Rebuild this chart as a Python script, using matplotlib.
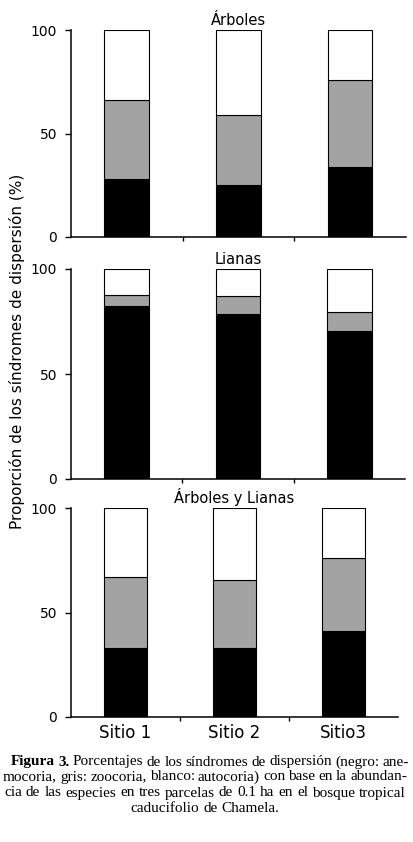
import matplotlib
matplotlib.use("Agg")
import matplotlib.pyplot as plt
import numpy as np

W, H = 414, 842

sitios = ["Sitio 1", "Sitio 2", "Sitio3"]
paneles = ["Árboles", "Lianas", "Árboles y Lianas"]

# porcentajes por sindrome (negro: anemocoria, gris: zoocoria, blanco: autocoria)
anemocoria_arboles = [28, 25, 34]
zoocoria_arboles = [38, 34, 42]
autocoria_arboles = [34, 41, 24]

anemocoria_lianas = [82.5, 78.5, 70.5]
zoocoria_lianas = [5, 8.5, 9]
autocoria_lianas = [12.5, 13, 20.5]

anemocoria_ambos = [33, 33, 41]
zoocoria_ambos = [34, 32.5, 35]
autocoria_ambos = [33, 34.5, 24]

yticks = [0, 50, 100]

datos = [
    (anemocoria_arboles, zoocoria_arboles, autocoria_arboles),
    (anemocoria_lianas, zoocoria_lianas, autocoria_lianas),
    (anemocoria_ambos, zoocoria_ambos, autocoria_ambos),
]

# axes boxes in pixels: left, top, right, bottom
cajas = [(71, 30, 406, 237), (71, 269, 405, 479), (71, 508, 398, 717)]

colores = ["black", "#a3a3a3", "white"]

fig = plt.figure(figsize=(W / 100, H / 100), dpi=100)

for i, (titulo, series, caja) in enumerate(zip(paneles, datos, cajas)):
    l, t, r, b = caja
    ax = fig.add_axes([l / W, (H - b) / H, (r - l) / W, (b - t) / H])
    x = np.arange(len(sitios))
    base = np.zeros(len(sitios))
    for valores, color in zip(series, colores):
        ax.bar(x, valores, width=0.4, bottom=base, color=color,
               edgecolor="black", linewidth=0.8, zorder=2)
        base = base + np.array(valores)
    ax.set_xlim(-0.5, 2.5)
    ax.set_ylim(0, 100)
    ax.set_yticks(yticks)
    ax.tick_params(axis="y", direction="out", length=4, width=1, pad=6,
                   labelsize=10)
    ax.set_xticks(x)
    ax.set_xticks([0.5, 1.5], minor=True)
    ax.tick_params(axis="x", which="major", length=0, pad=5, labelsize=12)
    ax.tick_params(axis="x", which="minor", direction="out", length=3, width=1)
    if i < 2:
        ax.set_xticklabels([])
    else:
        ax.set_xticklabels(sitios)
    for s in ["top", "right"]:
        ax.spines[s].set_visible(False)
    for s in ["left", "bottom"]:
        ax.spines[s].set_linewidth(1.1)
    ax.set_title(titulo, fontsize=10.5, pad=3.8)

fig.text(17 / W, 1 - 351 / H, "Proporción de los síndromes de dispersión (%)",
         rotation=90, ha="center", va="center", fontsize=11)

# caption, justified lines like in the printed figure
renderer = fig.canvas.get_renderer()
serif = "Liberation Serif"
csize = 11.0


def linea(y, palabras, x0, x1, justificar=True):
    textos = []
    for palabra, peso in palabras:
        t = fig.text(0, 1 - y / H, palabra, family=serif, fontsize=csize,
                     weight=peso, ha="left", va="center")
        textos.append(t)
    anchos = [t.get_window_extent(renderer).width for t in textos]
    if justificar and len(textos) > 1:
        hueco = (x1 - x0 - sum(anchos)) / (len(textos) - 1)
        pos = x0
    else:
        esp = fig.text(0, 0, "a a", family=serif, fontsize=csize)
        sin = fig.text(0, 0, "aa", family=serif, fontsize=csize)
        hueco = esp.get_window_extent(renderer).width - sin.get_window_extent(renderer).width
        esp.remove()
        sin.remove()
        total = sum(anchos) + hueco * (len(textos) - 1)
        pos = (x0 + x1) / 2 - total / 2
    for t, a in zip(textos, anchos):
        t.set_x(pos / W)
        pos += a + hueco


def normal(frase):
    return [(p, "normal") for p in frase.split()]


linea(762, [("Figura", "bold"), ("3.", "bold")]
      + normal("Porcentajes de los síndromes de dispersión (negro: ane-"), 11, 409)
linea(777, normal("mocoria, gris: zoocoria, blanco: autocoria) con base en la abundan-"), 3, 407)
linea(793, normal("cia de las especies en tres parcelas de 0.1 ha en el bosque tropical"), 4, 406)
linea(808, normal("caducifolio de Chamela."), 3, 407, justificar=False)

fig.savefig("out.png", dpi=100)
